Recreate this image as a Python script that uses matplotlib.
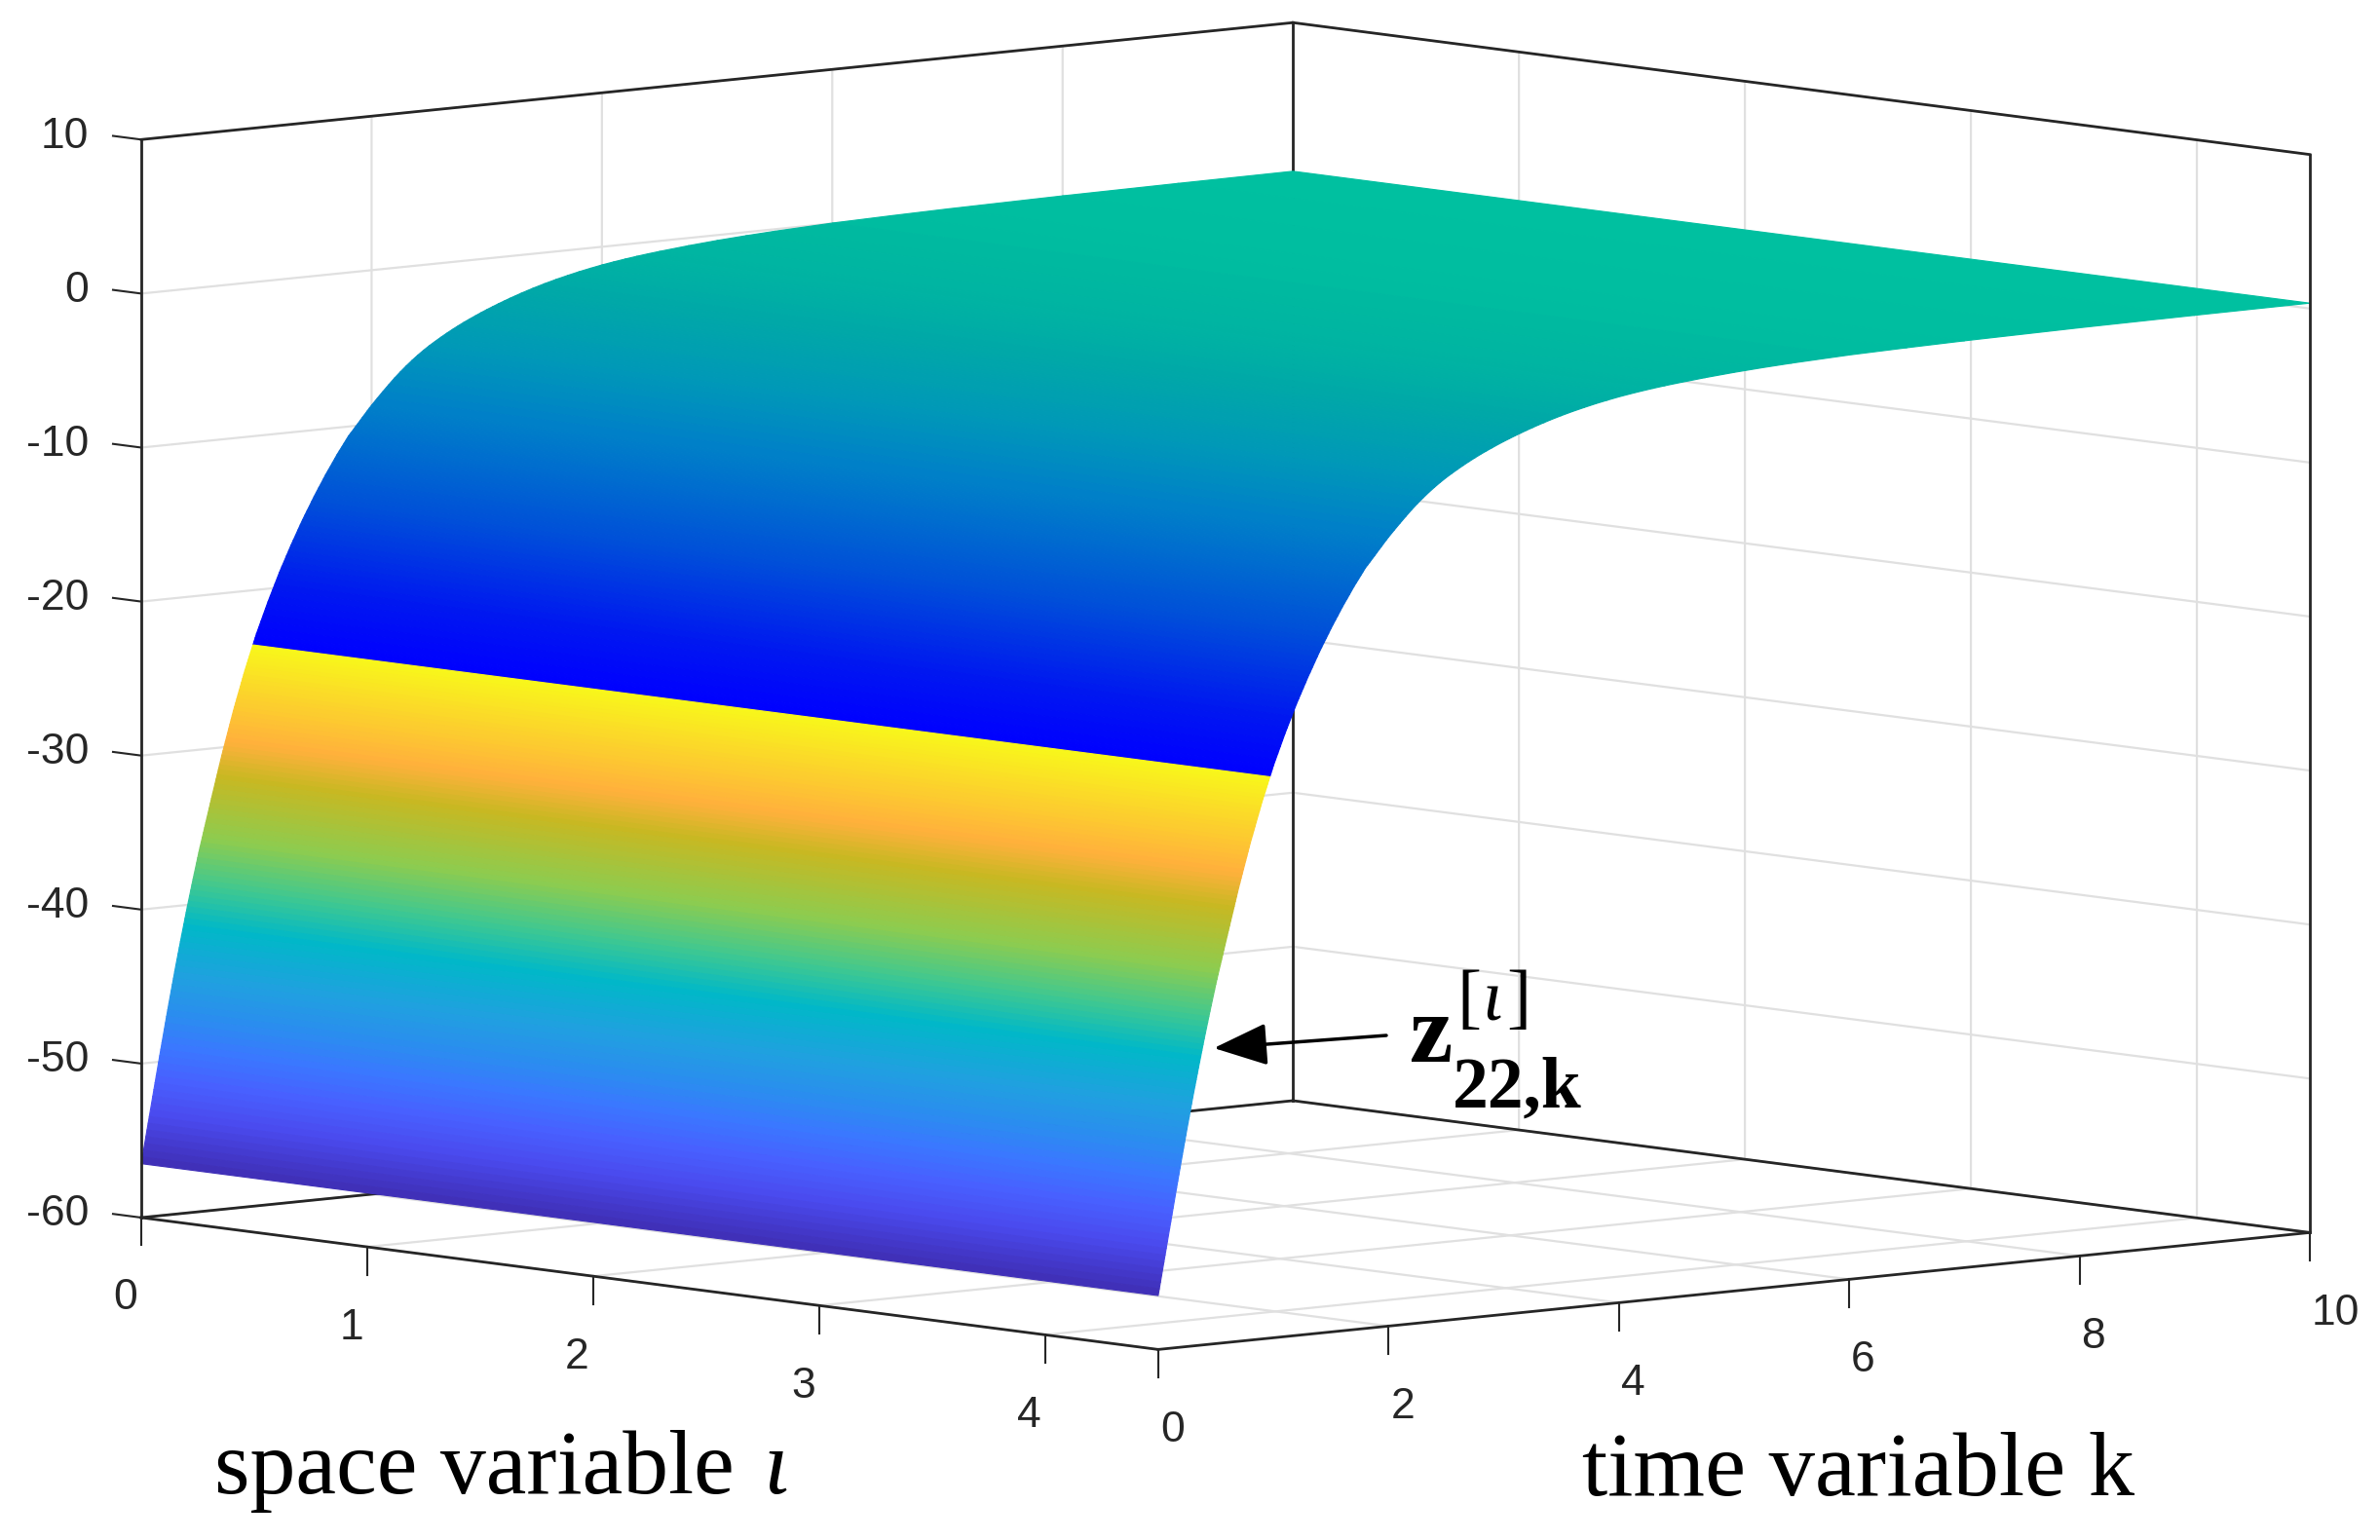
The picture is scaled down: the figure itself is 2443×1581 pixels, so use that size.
import numpy as np
import matplotlib
matplotlib.use("Agg")
import matplotlib.pyplot as plt
from matplotlib.colors import LinearSegmentedColormap, Normalize
from matplotlib.ticker import NullFormatter
from mpl_toolkits.mplot3d import proj3d

# values
space = [0, 4.5]
time_k = [0.00, 0.01, 0.02, 0.03, 0.04, 0.05, 0.06, 0.07, 0.08, 0.09,
          0.10, 0.11, 0.12, 0.13, 0.14, 0.15, 0.16, 0.17, 0.18, 0.19,
          0.20, 0.21, 0.22, 0.23, 0.24, 0.25, 0.26, 0.27, 0.28, 0.29,
          0.30, 0.31, 0.32, 0.33, 0.34, 0.35, 0.36, 0.37, 0.38, 0.39,
          0.40, 0.41, 0.42, 0.43, 0.44, 0.45, 0.46, 0.47, 0.48, 0.49,
          0.50, 0.51, 0.52, 0.53, 0.54, 0.55, 0.56, 0.57, 0.58, 0.59,
          0.60, 0.61, 0.62, 0.63, 0.64, 0.65, 0.66, 0.67, 0.68, 0.69,
          0.70, 0.71, 0.72, 0.73, 0.74, 0.75, 0.76, 0.77, 0.78, 0.79,
          0.80, 0.81, 0.82, 0.83, 0.84, 0.85, 0.86, 0.87, 0.88, 0.89,
          0.90, 0.91, 0.92, 0.93, 0.94, 0.95, 0.96, 0.97, 0.98, 0.99,
          1.00, 1.02, 1.04, 1.06, 1.08, 1.10, 1.12, 1.14, 1.16, 1.18,
          1.20, 1.22, 1.24, 1.26, 1.28, 1.30, 1.32, 1.34, 1.36, 1.38,
          1.40, 1.42, 1.44, 1.46, 1.48, 1.50, 1.52, 1.54, 1.56, 1.58,
          1.60, 1.62, 1.64, 1.66, 1.68, 1.70, 1.72, 1.74, 1.76, 1.78,
          1.80, 1.82, 1.84, 1.86, 1.88, 1.90, 1.92, 1.94, 1.96, 1.98,
          2.00, 2.05, 2.10, 2.15, 2.20, 2.25, 2.30, 2.35, 2.40, 2.45,
          2.50, 2.55, 2.60, 2.65, 2.70, 2.75, 2.80, 2.85, 2.90, 2.95,
          3.00, 3.05, 3.10, 3.15, 3.20, 3.25, 3.30, 3.35, 3.40, 3.50,
          3.60, 3.70, 3.80, 3.90, 4.00, 4.10, 4.20, 4.30, 4.40, 4.50,
          4.75, 5.00, 5.25, 5.50, 6.0, 6.5, 7, 8, 9, 10]
z22 = [-56.50, -56.07, -55.64, -55.21, -54.78, -54.35, -53.92, -53.49, -53.06, -52.63,
       -52.20, -51.77, -51.34, -50.91, -50.48, -50.05, -49.62, -49.20, -48.78, -48.36,
       -47.94, -47.52, -47.10, -46.69, -46.28, -45.87, -45.47, -45.07, -44.67, -44.27,
       -43.87, -43.49, -43.11, -42.73, -42.35, -41.97, -41.60, -41.23, -40.86, -40.49,
       -40.12, -39.77, -39.42, -39.07, -38.72, -38.37, -38.03, -37.69, -37.35, -37.01,
       -36.67, -36.35, -36.04, -35.73, -35.42, -35.11, -34.80, -34.49, -34.18, -33.87,
       -33.56, -33.25, -32.95, -32.64, -32.34, -32.03, -31.73, -31.42, -31.12, -30.81,
       -30.51, -30.23, -29.95, -29.67, -29.39, -29.11, -28.83, -28.55, -28.27, -27.99,
       -27.71, -27.45, -27.20, -26.94, -26.69, -26.43, -26.18, -25.92, -25.67, -25.41,
       -25.16, -24.93, -24.70, -24.47, -24.24, -24.01, -23.78, -23.55, -23.32, -23.09,
       -22.86, -22.46, -22.06, -21.66, -21.26, -20.86, -20.49, -20.12, -19.75, -19.38,
       -19.01, -18.67, -18.34, -18.00, -17.67, -17.33, -17.02, -16.71, -16.39, -16.08,
       -15.77, -15.48, -15.19, -14.91, -14.62, -14.33, -14.06, -13.79, -13.53, -13.26,
       -12.99, -12.74, -12.50, -12.25, -12.00, -11.75, -11.52, -11.30, -11.07, -10.84,
       -10.61, -10.43, -10.25, -10.06, -9.88, -9.69, -9.50, -9.32, -9.13, -8.95,
       -8.77, -8.35, -7.94, -7.54, -7.15, -6.79, -6.45, -6.13, -5.83, -5.55,
       -5.29, -5.05, -4.82, -4.60, -4.39, -4.19, -4.00, -3.82, -3.65, -3.48,
       -3.32, -3.17, -3.02, -2.88, -2.74, -2.61, -2.48, -2.36, -2.24, -2.02,
       -1.82, -1.64, -1.47, -1.32, -1.18, -1.06, -0.95, -0.85, -0.76, -0.68,
       -0.50, -0.35, -0.23, -0.13, 0.02, 0.11, 0.18, 0.27, 0.32, 0.35]

space_ticks = [0, 1, 2, 3, 4]
time_ticks = [0, 2, 4, 6, 8, 10]
z_ticks = [-60, -50, -40, -30, -20, -10, 0, 10]

# colour by height, wraps from yellow to blue
color_z = [-56.5, -53.6, -51.4, -49.2, -47.3, -44.8, -41.5, -38.9, -36, -32, -29.8, -23.65,
           -23.65, -20, -14.7, -8.8, -5.4, -2.4, -0.2, 0.35]
color_hex = ["#4030b8", "#4a4aee", "#4860ff", "#3a78ff", "#2b8cf0", "#20a0e0", "#00b8c8", "#40c890",
             "#8ccc50", "#c8b822", "#ffb03c", "#f8f81a",
             "#0000ff", "#0018f0", "#0050d8", "#0080c8", "#0098b8", "#00a8a8", "#00b8a0", "#00c0a0"]

W, H = 2443, 1581
plt.rcParams["font.family"] = "Liberation Sans"
plt.rcParams["grid.color"] = "#e0e0e0"
plt.rcParams["grid.linewidth"] = 1.6
plt.rcParams["xtick.major.width"] = 0
plt.rcParams["ytick.major.width"] = 0
dark = "#262626"

fig = plt.figure(figsize=(W / 100, H / 100), dpi=100)
ax = fig.add_axes([-0.1, -0.4, 1.2, 1.8], projection="3d", computed_zorder=False)
ax.set_proj_type("ortho")
ax.view_init(elev=6.59, azim=-41.5)
aspect = (1011, 1013, 715)
ax.set_box_aspect(aspect)
ax.set_xlim(0, 4.5, view_margin=0)
ax.set_ylim(0, 10, view_margin=0)
ax.set_zlim(-60, 10, view_margin=0)
ax.set_xticks(space_ticks)
ax.set_yticks(time_ticks)
ax.set_zticks(z_ticks)
ax.tick_params(color=(0, 0, 0, 0))
for axis in (ax.xaxis, ax.yaxis, ax.zaxis):
    axis.set_major_formatter(NullFormatter())
    axis.set_pane_color((1, 1, 1, 0))
    axis.pane.set_edgecolor("none")
    axis.line.set_color("none")

# surface
X, Y = np.meshgrid(space, time_k)
Z = np.tile(np.array(z22)[:, None], (1, len(space)))
lo, hi = color_z[0], color_z[-1]
cmap = LinearSegmentedColormap.from_list(
    "wrapped", [((v - lo) / (hi - lo), c) for v, c in zip(color_z, color_hex)], N=2048)
colors = cmap(Normalize(lo, hi)(Z))
ax.plot_surface(X, Y, Z, facecolors=colors, shade=False, rstride=1, cstride=1,
                linewidth=0.8, antialiased=True, zorder=2)

# box lines
x0, x1 = ax.get_xlim()
y0, y1 = ax.get_ylim()
z0, z1 = ax.get_zlim()
back_edges = [([x0, x0], [y0, y1], [z1, z1]), ([x0, x1], [y1, y1], [z1, z1]),
              ([x0, x0], [y1, y1], [z0, z1]), ([x0, x0], [y0, y1], [z0, z0]),
              ([x0, x1], [y1, y1], [z0, z0])]
front_edges = [([x0, x0], [y0, y0], [z0, z1]), ([x1, x1], [y1, y1], [z0, z1]),
               ([x0, x1], [y0, y0], [z0, z0]), ([x1, x1], [y0, y1], [z0, z0])]
for e in back_edges:
    ax.plot(*e, color=dark, lw=2.0, zorder=1)
for e in front_edges:
    ax.plot(*e, color=dark, lw=2.0, zorder=3)

# tick marks
for v in space_ticks:
    ax.plot([v, v], [y0, y0], [z0, z0 - 1.8], color=dark, lw=1.5, zorder=3)
for v in time_ticks:
    ax.plot([x1, x1], [v, v], [z0, z0 - 1.8], color=dark, lw=1.5, zorder=3)
for v in z_ticks:
    ax.plot([x0 - 0.125, x0], [y0, y0], [v, v], color=dark, lw=1.5, zorder=3)

# fit the box onto the picture
def to_px(x, y, z):
    xp, yp, _ = proj3d.proj_transform(x, y, z, ax.get_proj())
    return ax.transData.transform((xp, yp))

fig.canvas.draw()
width = to_px(x1, y1, z0)[0] - to_px(x0, y0, z0)[0]
ax.set_box_aspect(aspect, zoom=2226 / width)
fig.canvas.draw()
p = to_px(x0, y0, z0)
pos = ax.get_position(original=True)
ax.set_position([pos.x0 + (145 - p[0]) / W, pos.y0 + ((H - 1250) - p[1]) / H, pos.width, pos.height])
fig.canvas.draw()

# tick labels, placed from the projected tick positions
tick_font = 32
def tick_label(pt, dx, dy, s, ha):
    fig.text((pt[0] + dx) / W, (pt[1] - dy) / H, s, fontsize=tick_font, color=dark, ha=ha, va="center")

for v in space_ticks:
    tick_label(to_px(v, y0, z0), -4, 83, str(v), "right")
for v in time_ticks:
    tick_label(to_px(x1, v, z0), 2, 83, str(v), "left")
for v in z_ticks:
    tick_label(to_px(x0, y0, v), -54, -3, str(v), "right")

# labels, in picture pixels
def label(x, y, s, **kw):
    fig.text(x / W, 1 - y / H, s, family="Liberation Serif", va="baseline", **kw)

label(220, 1533, "space variable", fontsize=67.5)
label(783, 1533, "ι", fontsize=68, style="italic")
label(1624, 1535, "time variable k", fontsize=68)
label(1446, 1090, "z", fontsize=72, weight="bold")
label(1495, 1047, "[", fontsize=54)
label(1522, 1047, "ι", fontsize=54, style="italic")
label(1546, 1047, "]", fontsize=54)
label(1491, 1137, "22,k", fontsize=53, weight="bold")

ax.annotate("", xy=(1246 / W, 1 - 1076 / H), xytext=(1423 / W, 1 - 1063 / H),
            xycoords="figure fraction", textcoords="figure fraction",
            arrowprops=dict(arrowstyle="-|>,head_length=1.9,head_width=0.75", color="black",
                            lw=2.5, shrinkA=0, shrinkB=0, mutation_scale=18))

fig.savefig("out.png", dpi=100)
